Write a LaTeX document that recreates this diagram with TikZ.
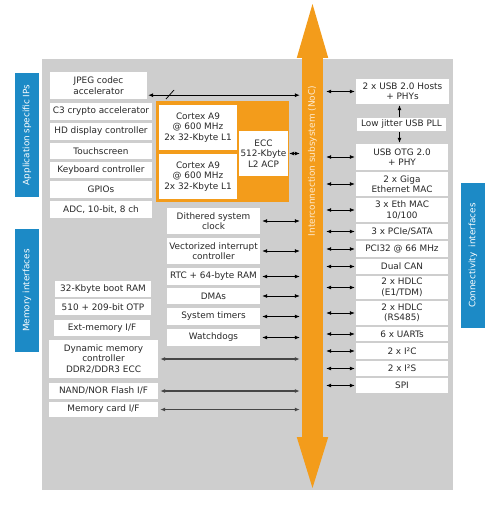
\documentclass[tikz,border=0pt]{standalone}
\usepackage{fontspec}
\setmainfont{DejaVu Sans}
\usetikzlibrary{arrows.meta}
\definecolor{bggray}{RGB}{206,206,206}
\definecolor{stor}{RGB}{243,156,27}
\definecolor{stblue}{RGB}{28,138,198}
\definecolor{txt}{RGB}{40,40,40}
\definecolor{darkln}{RGB}{70,70,70}
\newcommand{\bx}[6]{\node[box,minimum width={(#4)-(#2)},minimum height={(#5)-(#3)}] (#1) at ({((#2)+(#4))/2},{((#3)+(#5))/2}) {#6};}
\begin{document}
\begin{tikzpicture}[x=1pt,y=-1pt,
  box/.style={fill=white,inner sep=0pt,align=center,text=txt,font=\fontsize{8.9}{10.5}\selectfont},
  bar/.style={fill=stblue,rotate=90,inner sep=0pt,text=white,font=\fontsize{8.8}{10}\selectfont},
  conn/.style={{Latex[length=5pt,width=4pt]}-{Latex[length=5pt,width=4pt]},line width=0.75pt,black},
  mconn/.style={{Latex[length=5pt,width=4pt]}-{Latex[length=5pt,width=4pt]},line width=1.2pt,darkln},
  uconn/.style={-{Latex[length=5pt,width=4pt]},line width=0.75pt,black}]
\useasboundingbox (0,0) rectangle (494,506);
\fill[bggray] (42,59) rectangle (453,490);

% side bars
\node[bar,minimum width=124pt,minimum height=24pt] (appbar) at (27,135) {Application specific IPs};
\node[bar,minimum width=123pt,minimum height=24pt] (membar) at (27,290.5) {Memory interfaces};
\node[bar,minimum width=145pt,minimum height=24pt] (conbar) at (473,255.5) {Connectivity\ \ interfaces};

% NoC arrow
\node[fill=stor,inner sep=0pt,minimum width=21pt,minimum height=379pt] (noc) at (312.5,247.5) {};
\fill[stor] ([xshift=-5pt]noc.north west) -- (312.5,4) -- ([xshift=5pt]noc.north east) -- cycle;
\fill[stor] ([xshift=-5pt]noc.south west) -- (312.5,488) -- ([xshift=5pt]noc.south east) -- cycle;
\node[rotate=90,text=white!80!stor,font=\fontsize{9}{10}\selectfont] (nocl) at (312.5,161) {Interconnection subsystem (NoC)};

% application IPs
\bx{jpeg}{50}{72}{147}{99}{JPEG codec\\accelerator}
\bx{c3}{50}{103}{152}{120}{C3 crypto accelerator}
\bx{hd}{50}{123}{152}{140}{HD display controller}
\bx{touch}{50}{143}{152}{159}{Touchscreen}
\bx{kbd}{50}{162}{152}{178}{Keyboard controller}
\bx{gpio}{50}{181}{152}{198}{GPIOs}
\bx{adc}{50}{201}{152}{218}{ADC, 10-bit, 8 ch}

% memory
\bx{bram}{55}{281}{151}{297}{32-Kbyte boot RAM}
\bx{otp}{55}{299}{151}{315}{510 + 209-bit OTP}
\bx{extm}{54}{320}{150}{336}{Ext-memory I/F}
\bx{dmc}{49}{340}{158}{378}{Dynamic memory\\controller\\DDR2/DDR3 ECC}
\bx{nand}{49}{383}{158}{399}{NAND/NOR Flash I/F}
\bx{mcard}{49}{402}{158}{417}{Memory card I/F}

% CPU block
\node[fill=stor,inner sep=0pt,minimum width=133pt,minimum height=101pt] (cpu) at (222.5,151.5) {};
\bx{cpua}{159}{105}{237}{150}{Cortex A9\\@ 600 MHz\\2x 32-Kbyte L1}
\bx{cpub}{159}{154}{237}{199}{Cortex A9\\@ 600 MHz\\2x 32-Kbyte L1}
\bx{ecc}{239}{131}{288}{176}{ECC\\512-Kbyte\\L2 ACP}

% middle column
\bx{dith}{167}{208}{260}{234}{Dithered system\\clock}
\bx{vic}{167}{238}{260}{264}{Vectorized interrupt\\controller}
\bx{rtc}{167}{268}{260}{285}{RTC + 64-byte RAM}
\bx{dma}{167}{288}{260}{304}{DMAs}
\bx{tim}{167}{308}{260}{325}{System timers}
\bx{wdg}{167}{329}{260}{346}{Watchdogs}

% right column
\bx{usbh}{356}{79}{449}{104}{2 x USB 2.0 Hosts\\+ PHYs}
\bx{pll}{357}{118}{446}{131}{Low jitter USB PLL}
\bx{otg}{356}{144}{448}{170}{USB OTG 2.0\\+ PHY}
\bx{giga}{356}{172}{448}{196}{2 x Giga\\Ethernet MAC}
\bx{eth}{356}{198}{448}{222}{3 x Eth MAC\\10/100}
\bx{pcie}{356}{224}{448}{239}{3 x PCIe/SATA}
\bx{pci}{356}{241}{448}{257}{PCI32 @ 66 MHz}
\bx{can}{356}{259}{448}{274}{Dual CAN}
\bx{hdlca}{356}{276}{448}{299}{2 x HDLC\\(E1/TDM)}
\bx{hdlcb}{356}{301}{448}{325}{2 x HDLC\\(RS485)}
\bx{uart}{356}{327}{448}{341}{6 x UARTs}
\bx{iic}{356}{343}{448}{359}{2 x I²C}
\bx{iis}{356}{361}{448}{376}{2 x I²S}
\bx{spi}{356}{378}{448}{393}{SPI}

% connectors
\draw[conn,shorten <=1pt,shorten >=2pt] ([yshift=4pt]jpeg.south east) -- ([yshift=4pt]jpeg.south east -| noc.west);
\draw[line width=0.75pt] (166,99) -- (174,90);
\draw[conn,shorten <=1pt,shorten >=2pt] (ecc.east) -- (ecc.east -| noc.west);
\foreach \n in {dith,vic,rtc,dma,tim,wdg}
  \draw[conn,shorten <=2pt,shorten >=2pt] (\n.east) -- (\n.east -| noc.west);
\foreach \n in {dmc,nand,mcard}
  \draw[mconn,shorten <=2pt,shorten >=2pt] (\n.east) -- (\n.east -| noc.west);
\foreach \n in {usbh,otg,giga,eth,pcie,pci,can,hdlca,hdlcb,uart,iic,iis,spi}
  \draw[conn,shorten <=3pt,shorten >=1pt] (\n.west -| noc.east) -- (\n.west);
\draw[uconn,shorten <=1pt,shorten >=1pt] ([xshift=-2pt]pll.north) -- ([xshift=-2pt]pll.north |- usbh.south);
\draw[uconn,shorten <=1pt,shorten >=1pt] ([xshift=-2pt]pll.south) -- ([xshift=-2pt]pll.south |- otg.north);
\end{tikzpicture}
\end{document}
